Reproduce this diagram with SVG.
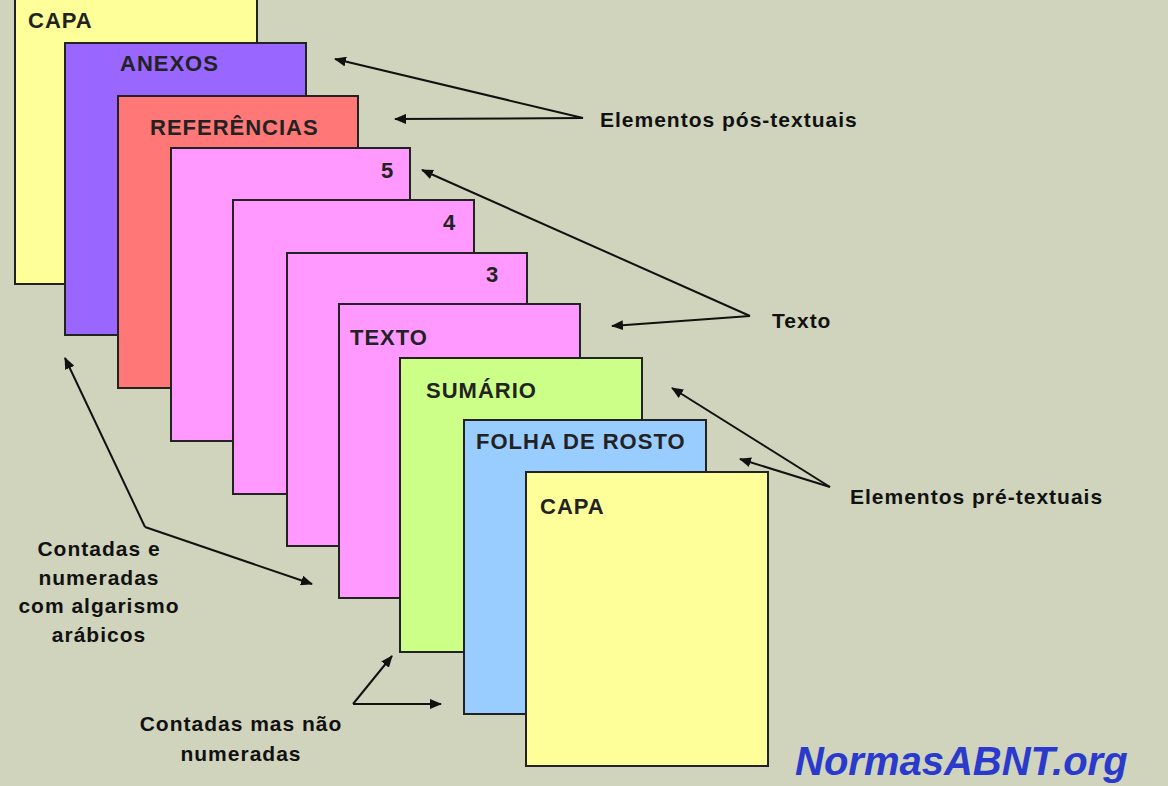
<svg xmlns="http://www.w3.org/2000/svg" width="1168" height="786" viewBox="0 0 1168 786">
<defs>
<style>
.p{stroke:#222;stroke-width:2}
.t{font-family:"Liberation Sans",Arial,sans-serif;font-size:22px;font-weight:bold;fill:#222;letter-spacing:1px}
.l{font-family:"Liberation Sans",Arial,sans-serif;font-size:21px;font-weight:bold;fill:#111;letter-spacing:1px}
.c{fill:none;stroke:#111;stroke-width:2}
</style>
<marker id="a" markerWidth="12" markerHeight="10" refX="11" refY="5" orient="auto" markerUnits="userSpaceOnUse"><path d="M0,0 L12,5 L0,10 Z" fill="#111"/></marker>
</defs>
<rect width="1168" height="786" fill="#d0d4bd"/>
<g id="capa-back"><rect class="p" x="15" y="-5" width="242" height="289" fill="#ffff99"/><text class="t" x="28" y="28">CAPA</text></g>
<g id="anexos"><rect class="p" x="65" y="43" width="241" height="292" fill="#9966ff"/><text class="t" x="120" y="71">ANEXOS</text></g>
<g id="referencias"><rect class="p" x="118" y="96" width="240" height="292" fill="#ff7777"/><text class="t" x="150" y="135">REFERÊNCIAS</text></g>
<g id="p5"><rect class="p" x="171" y="148" width="239" height="293" fill="#ff99ff"/><text class="t" x="381" y="178">5</text></g>
<g id="p4"><rect class="p" x="233" y="200" width="241" height="294" fill="#ff99ff"/><text class="t" x="443" y="230">4</text></g>
<g id="p3"><rect class="p" x="287" y="253" width="240" height="293" fill="#ff99ff"/><text class="t" x="486" y="282">3</text></g>
<g id="texto"><rect class="p" x="339" y="304" width="241" height="294" fill="#ff99ff"/><text class="t" x="350" y="345">TEXTO</text></g>
<g id="sumario"><rect class="p" x="400" y="358" width="242" height="294" fill="#ccff88"/><text class="t" x="426" y="398">SUMÁRIO</text></g>
<g id="folha"><rect class="p" x="464" y="420" width="242" height="294" fill="#99ccff"/><text class="t" x="476" y="449">FOLHA DE ROSTO</text></g>
<g id="capa-front"><rect class="p" x="526" y="472" width="242" height="294" fill="#ffff99"/><text class="t" x="540" y="514">CAPA</text></g>
<g id="connectors">
<path class="c" marker-end="url(#a)" d="M583,118 L335,59"/>
<path class="c" marker-end="url(#a)" d="M583,118 L395,119"/>
<path class="c" marker-end="url(#a)" d="M750,316 L422,170"/>
<path class="c" marker-end="url(#a)" d="M750,316 L612,326"/>
<path class="c" marker-end="url(#a)" d="M830,487 L672,388"/>
<path class="c" marker-end="url(#a)" d="M830,487 L740,459"/>
<path class="c" marker-end="url(#a)" d="M145,527 L65,358"/>
<path class="c" marker-end="url(#a)" d="M145,527 L312,584"/>
<path class="c" marker-end="url(#a)" d="M353,704 L392,656"/>
<path class="c" marker-end="url(#a)" d="M353,704 L441,704"/>
</g>
<g id="labels">
<text class="l" x="600" y="127">Elementos pós-textuais</text>
<text class="l" x="772" y="328">Texto</text>
<text class="l" x="850" y="504">Elementos pré-textuais</text>
<text class="l" text-anchor="middle" x="99" y="556">Contadas e</text>
<text class="l" text-anchor="middle" x="99" y="585">numeradas</text>
<text class="l" text-anchor="middle" x="99" y="613">com algarismo</text>
<text class="l" text-anchor="middle" x="99" y="642">arábicos</text>
<text class="l" text-anchor="middle" x="241" y="731">Contadas mas não</text>
<text class="l" text-anchor="middle" x="241" y="761">numeradas</text>
<text x="795" y="775" font-family="'Liberation Sans',Arial,sans-serif" font-size="40" font-style="italic" font-weight="bold" fill="#2a3acc">NormasABNT.org</text>
</g>
</svg>
